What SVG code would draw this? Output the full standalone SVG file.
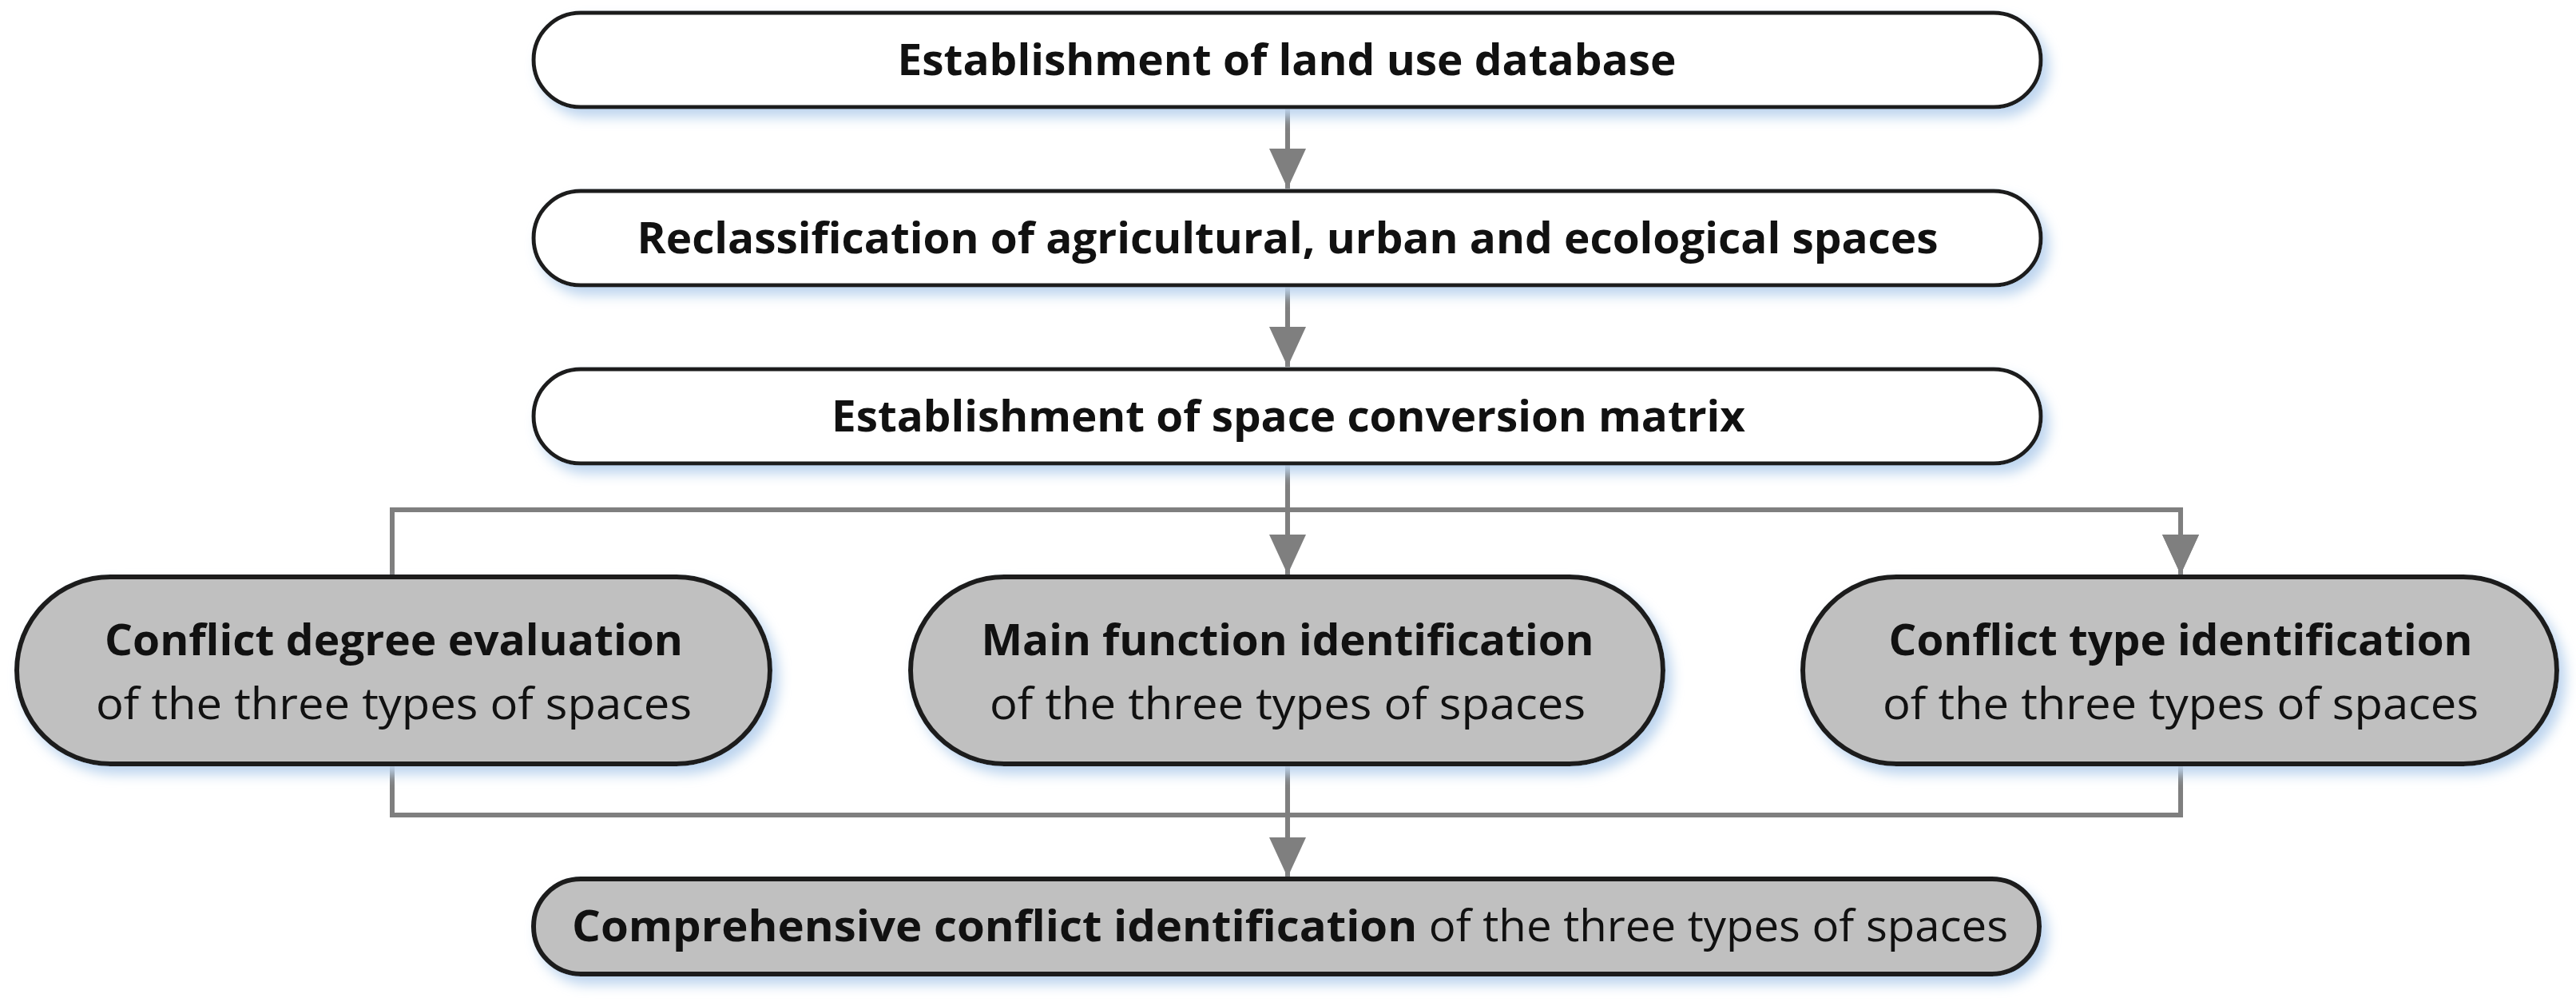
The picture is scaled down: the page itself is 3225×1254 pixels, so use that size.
<svg xmlns="http://www.w3.org/2000/svg" width="3225" height="1254" viewBox="0 0 3225 1254">
<style>
.w{fill:#fff;stroke:#1f1f1f;stroke-width:5;filter:url(#sh)}
.g{fill:#c0c0c0;stroke:#1f1f1f;stroke-width:6;filter:url(#sh)}
.t{font-family:"Open Sans","Liberation Sans",sans-serif;font-size:54px;fill:#111;text-anchor:middle}
.b{font-weight:bold}
.c{fill:none;stroke:#7f7f7f;stroke-width:6}
</style>
<defs>
<filter id="sh" x="-5%" y="-20%" width="115%" height="150%">
<feGaussianBlur in="SourceAlpha" stdDeviation="8"/>
<feOffset dx="8" dy="10" result="o"/>
<feFlood flood-color="#bcd4ee"/>
<feComposite in2="o" operator="in"/>
<feMerge><feMergeNode/><feMergeNode in="SourceGraphic"/></feMerge>
</filter>
<marker id="a" markerUnits="userSpaceOnUse" markerWidth="50" markerHeight="46" refX="50" refY="23" orient="auto">
<path d="M0,0 L50,23 L0,46 Z" fill="#7f7f7f"/>
</marker>
</defs>
<g id="connectors">
<path class="c" d="M1612,136 V236" marker-end="url(#a)"/>
<path class="c" d="M1612,358 V459" marker-end="url(#a)"/>
<path class="c" d="M1612,580 V719" marker-end="url(#a)"/>
<path class="c" d="M491,719 V638 H2730 V719" marker-end="url(#a)"/>
<path class="c" d="M2730,638 V719" marker-end="url(#a)"/>
<path class="c" d="M491,956 V1020 H2730 V956"/>
<path class="c" d="M1612,956 V1098" marker-end="url(#a)"/>
</g>
<g id="n1"><rect class="w" x="668" y="16" width="1887" height="118" rx="59"/>
<text class="t b" x="1611" y="94" textLength="975" lengthAdjust="spacingAndGlyphs">Establishment of land use database</text></g>
<g id="n2"><rect class="w" x="668" y="239" width="1887" height="118" rx="59"/>
<text class="t b" x="1612" y="317" textLength="1629" lengthAdjust="spacingAndGlyphs">Reclassification of agricultural, urban and ecological spaces</text></g>
<g id="n3"><rect class="w" x="668" y="462" width="1887" height="118" rx="59"/>
<text class="t b" x="1613" y="540" textLength="1144" lengthAdjust="spacingAndGlyphs">Establishment of space conversion matrix</text></g>
<g id="n4"><rect class="g" x="21" y="722" width="943" height="234" rx="117"/>
<text class="t b" x="493" y="820" font-size="60" textLength="724" lengthAdjust="spacingAndGlyphs">Conflict degree evaluation</text>
<text class="t" x="493" y="900" font-size="60" textLength="746" lengthAdjust="spacingAndGlyphs">of the three types of spaces</text></g>
<g id="n5"><rect class="g" x="1140" y="722" width="942" height="234" rx="117"/>
<text class="t b" x="1612" y="820" font-size="60" textLength="767" lengthAdjust="spacingAndGlyphs">Main function identification</text>
<text class="t" x="1612" y="900" font-size="60" textLength="746" lengthAdjust="spacingAndGlyphs">of the three types of spaces</text></g>
<g id="n6"><rect class="g" x="2257" y="722" width="944" height="234" rx="117"/>
<text class="t b" x="2730" y="820" font-size="60" textLength="731" lengthAdjust="spacingAndGlyphs">Conflict type identification</text>
<text class="t" x="2730" y="900" font-size="60" textLength="746" lengthAdjust="spacingAndGlyphs">of the three types of spaces</text></g>
<g id="n7"><rect class="g" x="668" y="1100" width="1885" height="119" rx="59"/>
<text class="t" x="1615" y="1178" text-anchor="middle" textLength="1798" lengthAdjust="spacingAndGlyphs"><tspan class="b">Comprehensive conflict identification</tspan> of the three types of spaces</text></g>
</svg>
